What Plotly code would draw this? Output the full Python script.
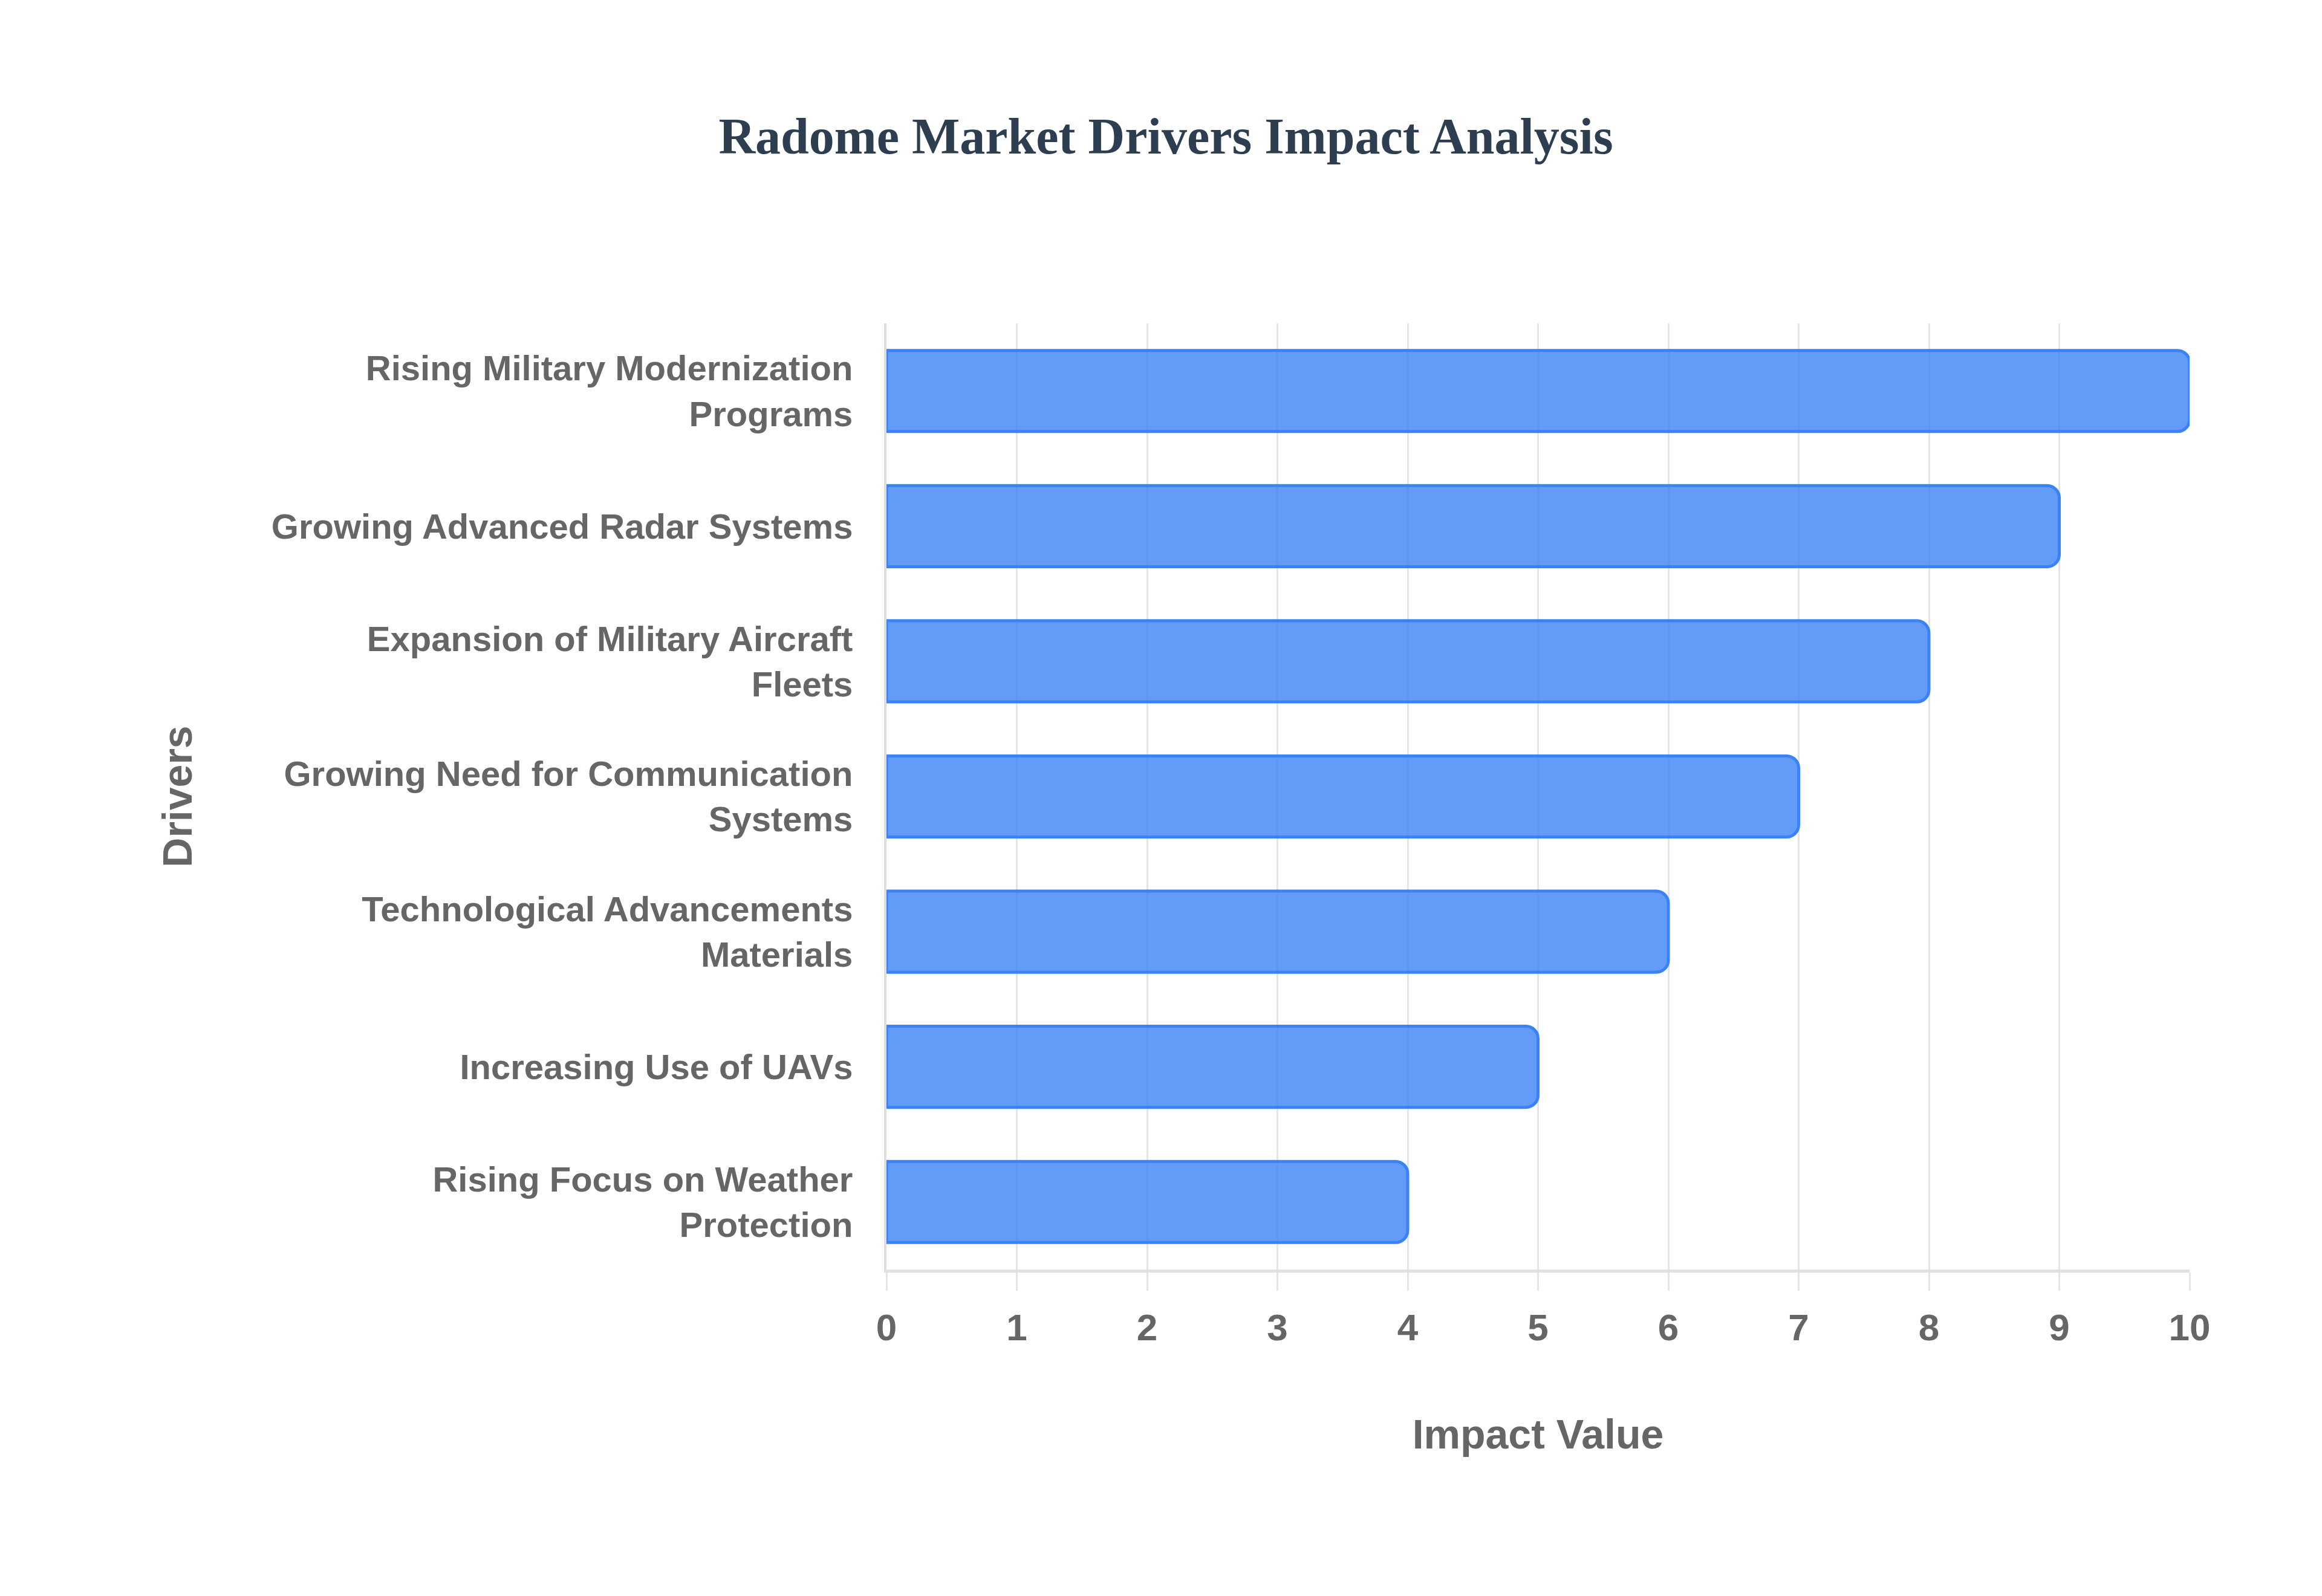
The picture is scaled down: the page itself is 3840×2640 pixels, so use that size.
import plotly.graph_objects as go

drivers = [
    "Rising Focus on Weather<br>Protection",
    "Increasing Use of UAVs",
    "Technological Advancements<br>Materials",
    "Growing Need for Communication<br>Systems",
    "Expansion of Military Aircraft<br>Fleets",
    "Growing Advanced Radar Systems",
    "Rising Military Modernization<br>Programs",
]
impact = [4, 5, 6, 7, 8, 9, 10]
x_ticks = list(range(0, 11))

fig = go.Figure()
fig.add_trace(go.Bar(
    x=impact,
    y=drivers,
    orientation="h",
    width=0.6,
    marker=dict(
        color="rgba(59,130,246,0.8)",
        line=dict(color="#3B82F6", width=5),
        cornerradius=20,
    ),
    hoverinfo="x+y",
))

fig.update_layout(
    width=3840,
    height=2640,
    paper_bgcolor="white",
    plot_bgcolor="white",
    margin=dict(l=1458, r=227, t=527, b=548),
    showlegend=False,
    title=dict(
        text="<b>Radome Market Drivers Impact Analysis</b>",
        x=0.5,
        xanchor="center",
        y=0.918,
        yanchor="middle",
        font=dict(family="Liberation Serif", size=84, color="#2C3E50"),
    ),
    font=dict(family="Liberation Sans", color="#666666"),
)

fig.update_xaxes(
    range=[0, 10],
    tickvals=x_ticks,
    ticktext=[str(v) for v in x_ticks],
    showgrid=True,
    gridcolor="#E5E5E5",
    gridwidth=3,
    zeroline=False,
    showline=True,
    linecolor="#E0E0E0",
    linewidth=5,
    ticks="outside",
    ticklen=30,
    tickwidth=3,
    tickcolor="#E5E5E5",
    ticklabelstandoff=8,
    tickfont=dict(family="Liberation Sans", size=62, color="#666666", weight="bold"),
    title=dict(text="<b>Impact Value</b>", standoff=120,
               font=dict(family="Liberation Sans", size=68, color="#666666")),
)

fig.update_yaxes(
    range=[-0.5, 6.5],
    showgrid=False,
    showline=True,
    linecolor="#DDDDDD",
    linewidth=4,
    ticks="",
    ticklabelstandoff=40,
    tickfont=dict(family="Liberation Sans", size=58, color="#666666", weight="bold"),
    title=dict(text="<b>Drivers</b>", standoff=110,
               font=dict(family="Liberation Sans", size=68, color="#666666")),
)

fig.write_html("out.html")
